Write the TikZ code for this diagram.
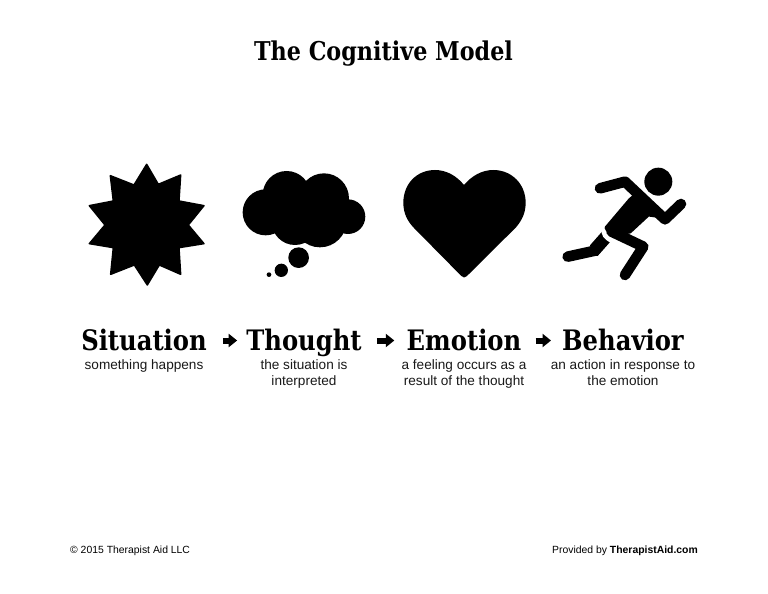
\documentclass[tikz,border=0pt]{standalone}
\usepackage{fontspec}
\setmainfont{Liberation Sans}
\newfontfamily\slabfont[FakeStretch=0.86]{DejaVu Serif}
\usetikzlibrary{arrows.meta}
\tikzset{
  icon/.style={fill=black,draw=black,line join=round},
  limb/.style={draw=black,line width=10.6pt,line cap=round,line join=round},
  heading/.style={font=\slabfont\bfseries\fontsize{28.2}{30}\selectfont,anchor=base,inner sep=0pt,text height=26pt,text depth=6pt},
  caption/.style={font=\fontsize{13.6}{16}\selectfont,anchor=north,inner sep=0pt,align=center,text=black!90},
  footer/.style={font=\fontsize{10.4}{12}\selectfont,anchor=base,inner sep=0pt},
  flow/.style={line width=6pt,-{Triangle[length=8.5pt,width=13pt]}},
}
\begin{document}
\begin{tikzpicture}[x=1pt,y=-1pt]
\useasboundingbox (0,0) rectangle (768,594);
\node[font=\slabfont\bfseries\fontsize{25.9}{28}\selectfont,anchor=base,inner sep=0pt] (title) at (383.5,60) {The Cognitive Model};
% star
\begin{scope}[shift={(70,150)},x=0.3333pt,y=-0.3333pt]
\fill[icon,line width=1.5pt] (230,43)--(265,103)--(332,75)--(327,153)--(402,167)--(355,225)--(402,281)--(327,293)--(332,373)--(268,345)--(232,405)--(193,345)--(122,373)--(130,293)--(58,281)--(105,225)--(58,167)--(130,153)--(121,77)--(192,105)--cycle;
% cloud
\fill (587,187) circle (69);
\fill (650,135) circle (72);
\fill (762,145) circle (75);
\fill (834,200) circle (52);
\fill (675,215) circle (70);
\fill (750,212) circle (80);
\fill (686,323) circle (31);
\fill (634,361) circle (20);
\fill (597,374) circle (7);
\end{scope}
% heart
\begin{scope}[shift={(390,150)},x=0.3333pt,y=-0.3333pt]
\fill (222,105) .. controls (200,78) and (170,60) .. (135,60)
  .. controls (80,60) and (40,102) .. (40,158)
  .. controls (40,190) and (52,212) .. (70,232)
  -- (214,378) .. controls (219,384) and (226,384) .. (231,378)
  -- (378,232) .. controls (395,212) and (407,190) .. (407,158)
  .. controls (407,102) and (365,60) .. (310,60)
  .. controls (275,60) and (245,78) .. (222,105) -- cycle;
\end{scope}
% runner
\begin{scope}[shift={(550,160)},x=0.3333pt,y=-0.3333pt]
\fill (325,65) circle (42);
\fill (165,205) -- (120,256) -- (135,288) -- (143,288) -- (190,235) -- cycle;
\draw[limb] (135,272)--(53,290);
\draw[white,line width=22.6pt,line cap=round] (188,212)--(262,262);
\draw[limb] (150,85)--(225,65)--(345,178)--(393,132);
\draw[limb] (185,215)--(280,260)--(225,345);
\fill[line join=round,draw=black,line width=3pt] (240,118)--(262,100)--(330,170)--(295,165)--(240,216)--(180,225)--(168,203)--cycle;
\end{scope}
% headings
\node[heading,minimum width=124pt] (situation) at (144,350.5) {Situation};
\node[heading,minimum width=114pt] (thought) at (304,350.5) {Thought};
\node[heading,minimum width=115pt] (emotion) at (464,350.5) {Emotion};
\node[heading,minimum width=121pt] (behavior) at (623,350.5) {Behavior};
\draw[flow,shorten <=16pt,shorten >=9pt] (situation.east) -- (thought.west);
\draw[flow,shorten <=15pt,shorten >=12pt] (thought.east) -- (emotion.west);
\draw[flow,shorten <=14pt,shorten >=11pt] (emotion.east) -- (behavior.west);
% captions
\node[caption] (c1) at (144,359.5) {something happens};
\node[caption] (c2) at (304,359.5) {the situation is\\interpreted};
\node[caption] (c3) at (464,359.5) {a feeling occurs as a\\result of the thought};
\node[caption] (c4) at (623,359.5) {an action in response to\\the emotion};
% footer
\node[footer,anchor=base west] (copy) at (70,553) {© 2015 Therapist Aid LLC};
\node[footer,anchor=base east] (prov) at (698,553) {Provided by \textbf{TherapistAid.com}};
\end{tikzpicture}
\end{document}
